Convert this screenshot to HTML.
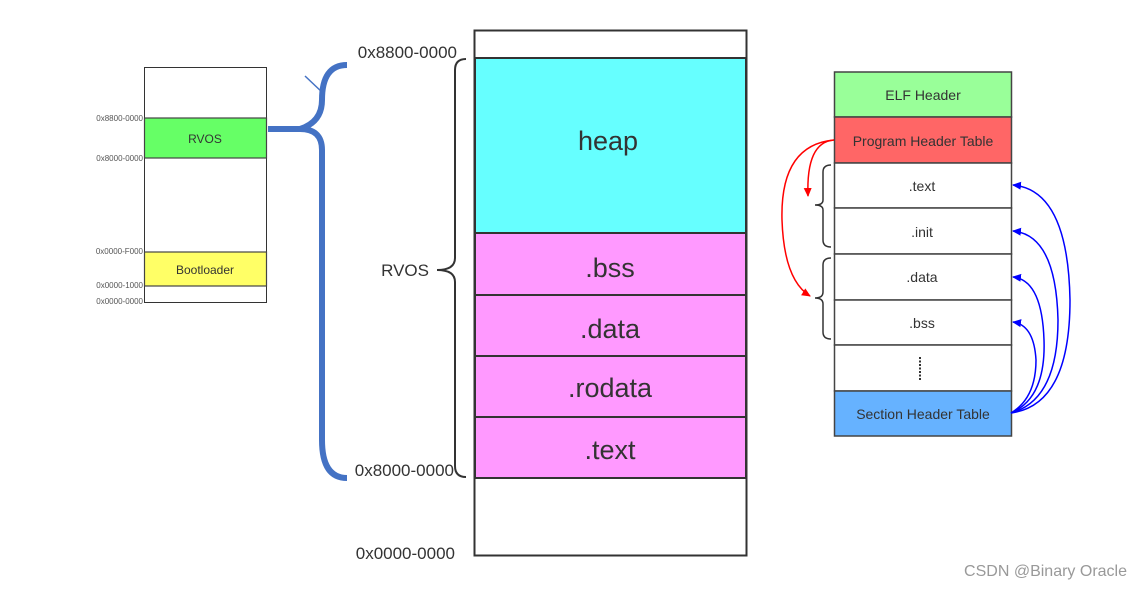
<!DOCTYPE html>
<html><head><meta charset="utf-8"><style>
html,body{margin:0;padding:0;background:#fff;}
svg{display:block;}
text{font-family:"Liberation Sans","DejaVu Sans",sans-serif;fill:#333;}
</style></head><body>
<svg width="1143" height="589" viewBox="0 0 1143 589" xmlns="http://www.w3.org/2000/svg">
<defs>
<marker id="ar" markerWidth="10" markerHeight="10" refX="8" refY="5" orient="auto" markerUnits="userSpaceOnUse"><path d="M0,1 L9,5 L0,9 Z" fill="#f00"/></marker>
<marker id="ab" markerWidth="10" markerHeight="10" refX="8" refY="5" orient="auto" markerUnits="userSpaceOnUse"><path d="M0,1 L9,5 L0,9 Z" fill="#00f"/></marker>
</defs>
<!-- left box -->
<rect x="144.5" y="67.5" width="122" height="235" fill="#fff" stroke="#333" stroke-width="1"/>
<rect x="144.5" y="118" width="122" height="40" fill="#66ff66" stroke="#444" stroke-width="1.2"/>
<rect x="144.5" y="252" width="122" height="34" fill="#ffff66" stroke="#444" stroke-width="1.2"/>
<text x="205" y="143" font-size="12" text-anchor="middle">RVOS</text>
<text x="205" y="274" font-size="12" text-anchor="middle">Bootloader</text>
<g font-size="8" fill="#555" text-anchor="end">
<text x="143" y="121" style="fill:#555">0x8800-0000</text>
<text x="143" y="161" style="fill:#555">0x8000-0000</text>
<text x="143" y="254" style="fill:#555">0x0000-F000</text>
<text x="143" y="288" style="fill:#555">0x0000-1000</text>
<text x="143" y="304" style="fill:#555">0x0000-0000</text>
</g>
<!-- blue brace -->
<path d="M268,129 L300,129 Q322,129 322,150 L322,440 Q322,478 347,478" fill="none" stroke="#4472c4" stroke-width="6"/>
<path d="M300,129 Q322,122 322,100 Q322,65 347,65" fill="none" stroke="#4472c4" stroke-width="6"/>
<line x1="305" y1="76" x2="324" y2="94" stroke="#4472c4" stroke-width="1.5"/>
<!-- middle -->
<rect x="474.5" y="30.5" width="272" height="525" fill="#fff" stroke="#333" stroke-width="2"/>
<rect x="475" y="58" width="271" height="175" fill="#66ffff" stroke="#333" stroke-width="2"/>
<rect x="475" y="233" width="271" height="62" fill="#ff99ff" stroke="#333" stroke-width="2"/>
<rect x="475" y="295" width="271" height="61" fill="#ff99ff" stroke="#333" stroke-width="2"/>
<rect x="475" y="356" width="271" height="61" fill="#ff99ff" stroke="#333" stroke-width="2"/>
<rect x="475" y="417" width="271" height="61" fill="#ff99ff" stroke="#333" stroke-width="2"/>
<g font-size="27" text-anchor="middle">
<text x="608" y="150">heap</text>
<text x="610" y="277">.bss</text>
<text x="610" y="338">.data</text>
<text x="610" y="397">.rodata</text>
<text x="610" y="459">.text</text>
</g>
<g font-size="17" text-anchor="end">
<text x="457" y="58">0x8800-0000</text>
<text x="454" y="476">0x8000-0000</text>
<text x="455" y="559">0x0000-0000</text>
<text x="429" y="276">RVOS</text>
</g>
<!-- black brace -->
<path d="M466,59 Q455,59 455,70 L455,258 Q455,270 437,270 Q455,270 455,282 L455,466 Q455,477 466,477" fill="none" stroke="#333" stroke-width="2"/>
<!-- right box -->
<g stroke="#444" stroke-width="1.5">
<rect x="834.5" y="72" width="177" height="45" fill="#99ff99"/>
<rect x="834.5" y="117" width="177" height="46" fill="#ff6666"/>
<rect x="834.5" y="163" width="177" height="45" fill="#fff"/>
<rect x="834.5" y="208" width="177" height="46" fill="#fff"/>
<rect x="834.5" y="254" width="177" height="46" fill="#fff"/>
<rect x="834.5" y="300" width="177" height="45" fill="#fff"/>
<rect x="834.5" y="345" width="177" height="46" fill="#fff"/>
<rect x="834.5" y="391" width="177" height="45" fill="#66b2ff"/>
</g>
<g font-size="14" text-anchor="middle">
<text x="923" y="100">ELF Header</text>
<text x="923" y="146">Program Header Table</text>
<text x="922" y="191">.text</text>
<text x="922" y="237">.init</text>
<text x="922" y="282">.data</text>
<text x="922" y="328">.bss</text>
<text x="923" y="419">Section Header Table</text>
</g>
<line x1="920" y1="357" x2="920" y2="380" stroke="#333" stroke-width="2" stroke-dasharray="2,1.5"/>
<!-- small braces -->
<path d="M831,165 Q823,165 823,172 L823,200 Q823,205 815,205 Q823,205 823,210 L823,240 Q823,247 831,247" fill="none" stroke="#333" stroke-width="1.5"/>
<path d="M831,258 Q823,258 823,265 L823,292 Q823,298 815,298 Q823,298 823,304 L823,332 Q823,339 831,339" fill="none" stroke="#333" stroke-width="1.5"/>
<!-- red arrows -->
<path d="M834,140 Q806,142 808,196" fill="none" stroke="#f00" stroke-width="1.5" marker-end="url(#ar)"/>
<path d="M834,140 Q780,145 782,220 Q784,280 810,296" fill="none" stroke="#f00" stroke-width="1.5" marker-end="url(#ar)"/>
<!-- blue arrows -->
<g fill="none" stroke="#00f" stroke-width="1.5">
<path d="M1011,413 Q1070,405 1070,300 Q1068,190 1013,185" marker-end="url(#ab)"/>
<path d="M1011,413 Q1058,400 1058,320 Q1056,235 1013,231" marker-end="url(#ab)"/>
<path d="M1011,413 Q1046,398 1044,340 Q1042,280 1013,277" marker-end="url(#ab)"/>
<path d="M1011,413 Q1036,398 1036,360 Q1034,325 1013,322" marker-end="url(#ab)"/>
</g>
<text x="1127" y="576" font-size="16" text-anchor="end" style="fill:#999">CSDN @Binary Oracle</text>
</svg>
</body></html>
